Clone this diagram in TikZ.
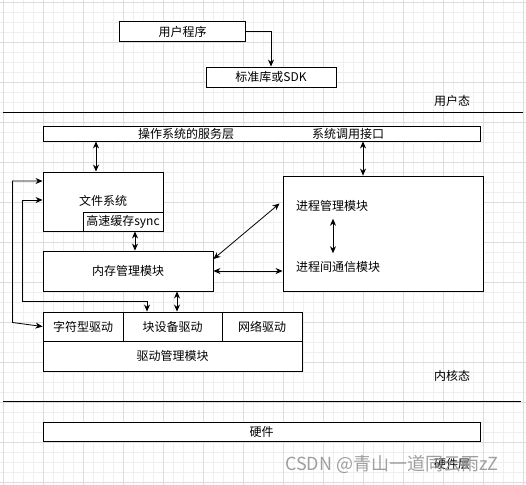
\documentclass[tikz,border=0pt]{standalone}
\usepackage{fontspec}
\setmainfont{Noto Sans CJK SC}
\usetikzlibrary{arrows.meta}
\definecolor{gridminor}{HTML}{EFEFEF}
\definecolor{gridmajor}{HTML}{DDDDDD}
\definecolor{wmgrey}{HTML}{8E8E8E}

\begin{document}
\begin{tikzpicture}[
    x=1pt, y=-1pt,
    box/.style 2 args={
        draw=black, line width=0.9pt, fill=white,
        minimum width=#1, minimum height=#2, inner sep=0pt,
        font=\fontsize{12}{14}\selectfont, align=center,
    },
    lbl/.style={font=\fontsize{12}{14}\selectfont, inner sep=0pt},
    sep/.style={line width=0.9pt},
    arr/.style={-{Stealth[length=7pt,width=6pt]}, line width=0.8pt},
    darr/.style={{Stealth[length=7pt,width=6pt]}-{Stealth[length=7pt,width=6pt]}, line width=0.8pt},
]
\useasboundingbox (0,0) rectangle (526,484);

% ════════════════════════════════════════
% Background grid
% ════════════════════════════════════════
\begin{scope}[shift={(3,2)}]
    \draw[gridminor, line width=0.8pt, step=10pt] (-10,-10) grid (530,490);
    \draw[gridmajor, line width=0.9pt, step=40pt] (-10,-10) grid (530,490);
\end{scope}

% ════════════════════════════════════════
% User space
% ════════════════════════════════════════
\node[box={126pt}{20pt}] (user) at (182.5, 31.5) {用户程序};
\node[box={130pt}{20pt}] (sdk) at (271, 77) {标准库或SDK};
\draw[arr] (user.east) -| (sdk.north);

% ════════════════════════════════════════
% Layer separators and layer labels
% ════════════════════════════════════════
\draw[sep] (3,112) -- (523,112);
\draw[sep] (3,401) -- (521,401);
\foreach \name/\ypos in {用户态/101, 内核态/376, 硬件层/464} {
    \node[lbl] (layer\ypos) at (452, \ypos) {\name};
}

% ════════════════════════════════════════
% Kernel: service layer
% ════════════════════════════════════════
\node[box={437pt}{15pt}] (service) at (261.5, 133.5) {};
\node[lbl] (servicetxt) at (186, 133.5) {操作系统的服务层};
\node[lbl] (syscall) at (348, 133.5) {系统调用接口};

% ════════════════════════════════════════
% Kernel: file system, memory, process
% ════════════════════════════════════════
\node[box={120pt}{59pt}] (fs) at (103, 201.5) {\raisebox{1.5pt}{文件系统}};
\node[box={80pt}{19pt}] (cache) at (123, 221.5) {高速缓存sync};
\node[box={170pt}{40pt}] (mem) at (128, 271) {内存管理模块};
\node[box={200pt}{115pt}] (proc) at (383, 233.5) {};
\node[lbl, anchor=west] (procm) at (296, 206) {进程管理模块};
\node[lbl, anchor=west] (ipc) at (296, 267) {进程间通信模块};

% ════════════════════════════════════════
% Kernel: drivers
% ════════════════════════════════════════
\node[box={80pt}{29pt}] (chr) at (83, 326.5) {字符型驱动};
\node[box={99pt}{29pt}] (blk) at (172.5, 326.5) {块设备驱动};
\node[box={80pt}{29pt}] (net) at (262, 326.5) {网络驱动};
\node[box={259pt}{30pt}] (drv) at (172.5, 356) {驱动管理模块};

% ════════════════════════════════════════
% Hardware
% ════════════════════════════════════════
\node[box={437pt}{19pt}] (hw) at (261.5, 431.5) {硬件};

% ════════════════════════════════════════
% Connectors
% ════════════════════════════════════════
\draw[darr] ([xshift=-7pt]fs.north) -- ([xshift=-7pt]fs.north |- service.south);
\draw[darr] ([xshift=-20pt]proc.north) -- ([xshift=-20pt]proc.north |- service.south);
\draw[darr] ([xshift=7pt]mem.north) -- ([xshift=7pt]mem.north |- cache.south);
\draw[darr] ([xshift=4.5pt]blk.north) -- ([xshift=4.5pt]blk.north |- mem.south);
\draw[darr] ([yshift=12pt]mem.east) -- ([xshift=-3pt,yshift=30pt]proc.west);
\draw[darr] (mem.east) -- (proc.west |- mem.east);
\draw[darr, shorten <=7pt, shorten >=8pt] (procm.south -| 333,0) -- (ipc.north -| 333,0);

% file system <-> drivers, round the left side
\draw[darr] ([yshift=20.5pt]fs.west) -- ++(-30,0) |- ([xshift=-30pt,yshift=4pt]chr.west) -- (chr.west);
\draw[darr] ([yshift=1.5pt]fs.west) -- ++(-20,0) |- ([xshift=-25.5pt,yshift=10pt]blk.north) -- ([xshift=-25.5pt]blk.north);

% ════════════════════════════════════════
% Watermark
% ════════════════════════════════════════
\node[font=\fontsize{18}{21}\selectfont, text=wmgrey, text opacity=0.85, inner sep=0pt] (mark) at (392, 464) {CSDN @青山一道同云雨zZ};

\end{tikzpicture}
\end{document}
